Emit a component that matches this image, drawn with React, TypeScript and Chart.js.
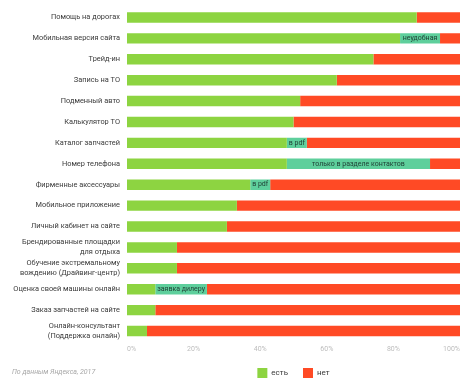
import React, { useEffect, useRef } from "react";
import { Chart, registerables } from "chart.js";

Chart.register(...registerables);

const categories: (string | string[])[] = [
  "Помощь на дорогах",
  "Мобильная версия сайта",
  "Трейд-ин",
  "Запись на ТО",
  "Подменный авто",
  "Калькулятор ТО",
  "Каталог запчастей",
  "Номер телефона",
  "Фирменные аксессуары",
  "Мобильное приложение",
  "Личный кабинет на сайте",
  ["Брендированные площадки", "для отдыха"],
  ["Обучение экстремальному", "вождению (Драйвинг-центр)"],
  "Оценка своей машины онлайн",
  "Заказ запчастей на сайте",
  ["Онлайн-консультант", "(Поддержка онлайн)"],
];

const yesValues = [87, 82, 74, 63, 52, 50, 48, 48, 37, 33, 30, 15, 15, 8.5, 8.5, 6];
const partialValues = [null, 12, null, null, null, null, 6, 43, 6, null, null, null, null, 15.5, null, null];
const partialLabels = ["", "неудобная", "", "", "", "", "в pdf", "только в разделе контактов", "в pdf", "", "", "", "", "заявка дилеру", "", ""];
const noValues = [13, 6, 26, 37, 48, 50, 46, 9, 57, 67, 70, 85, 85, 76, 91.5, 94];

const tickValues = [0, 20, 40, 60, 80, 100];
const legendYes = "есть";
const legendNo = "нет";
const sourceText = "По данным Яндекса, 2017";

const FONT = "Roboto, 'Open Sans', sans-serif";

const partialLabelPlugin = {
  id: "partialLabels",
  afterDatasetsDraw(chart: any) {
    const meta = chart.getDatasetMeta(1);
    const ctx = chart.ctx;
    ctx.save();
    ctx.font = `7px ${FONT}`;
    ctx.fillStyle = "#1e3d33";
    ctx.textAlign = "center";
    ctx.textBaseline = "middle";
    meta.data.forEach((el: any, i: number) => {
      const txt = partialLabels[i];
      if (!txt) return;
      const p = el.getProps(["x", "y", "base"], true);
      ctx.fillText(txt, (p.x + p.base) / 2, p.y);
    });
    ctx.restore();
  },
};

const sourcePlugin = {
  id: "sourceText",
  afterDraw(chart: any) {
    const ctx = chart.ctx;
    ctx.save();
    ctx.font = `italic 7px ${FONT}`;
    ctx.fillStyle = "#a8a8a8";
    ctx.textAlign = "left";
    ctx.textBaseline = "middle";
    ctx.fillText(sourceText, 12, 372.5);
    ctx.restore();
  },
};

export default function App() {
  const canvasRef = useRef<HTMLCanvasElement | null>(null);

  useEffect(() => {
    if (!canvasRef.current) return;
    const chart = new Chart(canvasRef.current, {
      type: "bar",
      data: {
        labels: categories,
        datasets: [
          {
            label: legendYes,
            data: yesValues,
            backgroundColor: "#8dd441",
            borderWidth: 0,
            barPercentage: 0.5,
            categoryPercentage: 1,
          },
          {
            label: "partial",
            data: partialValues,
            backgroundColor: "#5ecf9c",
            borderWidth: 0,
            barPercentage: 0.5,
            categoryPercentage: 1,
          },
          {
            label: legendNo,
            data: noValues,
            backgroundColor: "#ff4a25",
            borderWidth: 0,
            barPercentage: 0.5,
            categoryPercentage: 1,
          },
        ],
      },
      options: {
        indexAxis: "y",
        animation: false,
        responsive: true,
        maintainAspectRatio: false,
        layout: { padding: { top: 7, right: 14, left: 0, bottom: 0 } },
        scales: {
          x: {
            stacked: true,
            min: 0,
            max: 100,
            afterBuildTicks(scale: any) {
              scale.ticks = tickValues.map((v) => ({ value: v }));
            },
            afterFit(scale: any) {
              scale.height = 11.5;
              scale.paddingLeft = 0;
              scale.paddingRight = 0;
            },
            grid: { display: false, drawTicks: false },
            border: { display: false },
            ticks: {
              align: "inner",
              padding: 4,
              color: "#bdbdbd",
              font: { family: FONT, size: 7 },
              maxRotation: 0,
              callback: (v: any) => `${v}%`,
            },
          },
          y: {
            stacked: true,
            afterFit(scale: any) {
              scale.width = 127;
              scale.paddingTop = 0;
              scale.paddingBottom = 0;
            },
            grid: { display: false, drawTicks: false },
            border: { display: false },
            ticks: {
              padding: 7,
              color: "#3a3a3a",
              autoSkip: false,
              font: { family: FONT, size: 7.4, lineHeight: 1.35 },
            },
          },
        },
        plugins: {
          tooltip: { enabled: false },
          legend: {
            position: "bottom",
            fullSize: false,
            labels: {
              boxWidth: 10,
              boxHeight: 10,
              padding: 15,
              color: "#3a3a3a",
              font: { family: FONT, size: 8 },
              filter: (item: any) => item.datasetIndex !== 1,
            },
          },
        },
      },
      plugins: [partialLabelPlugin, sourcePlugin],
    } as any);
    return () => chart.destroy();
  }, []);

  return (
    <div style={{ position: "absolute", left: 0, top: 0, width: 474, height: 388, background: "#fff" }}>
      <canvas ref={canvasRef} />
    </div>
  );
}
